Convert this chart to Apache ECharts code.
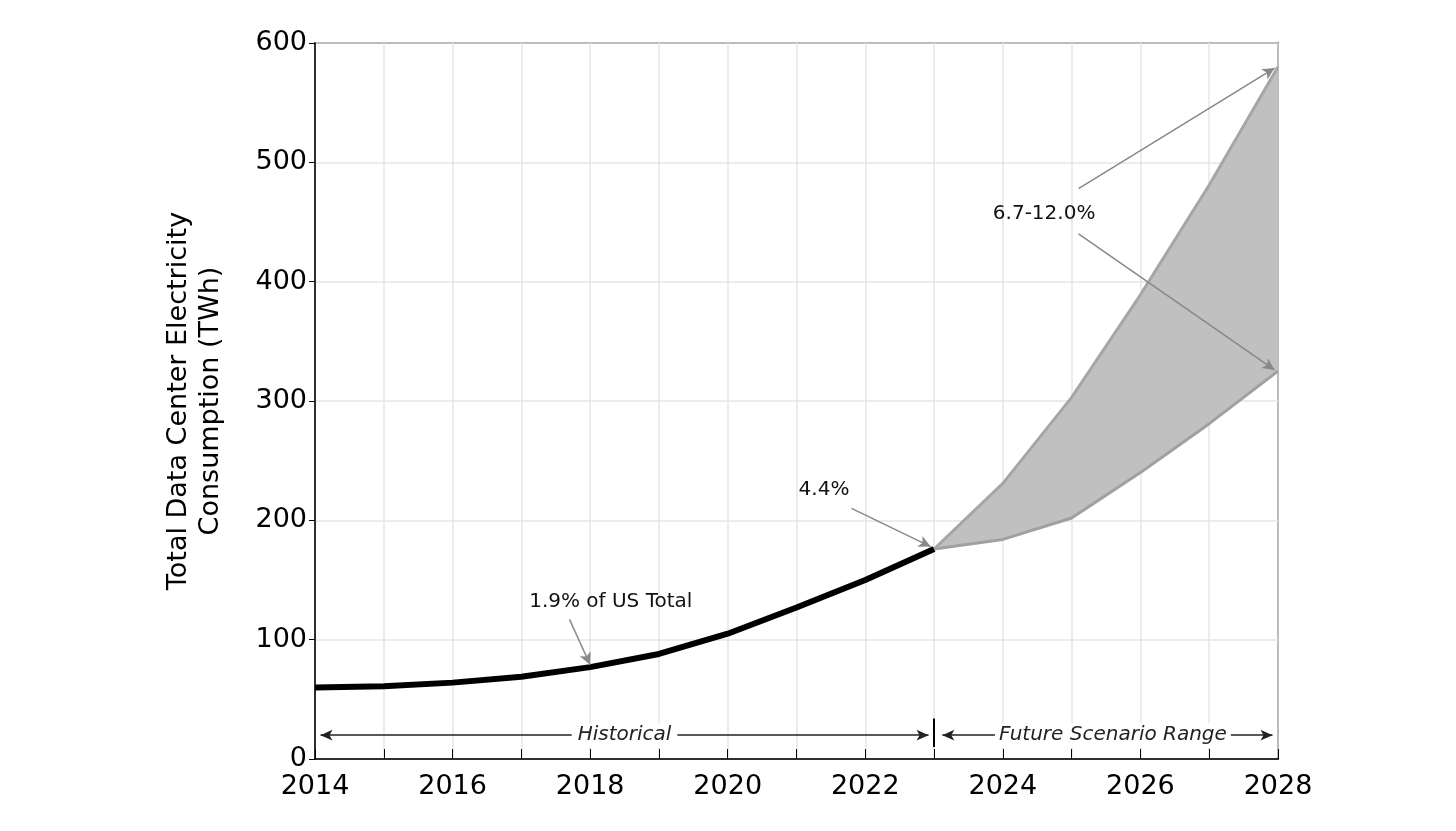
<!DOCTYPE html>
<html>
<head>
<meta charset="utf-8">
<script src="https://cdn.jsdelivr.net/npm/echarts@6/dist/echarts.min.js"></script>
<style>html,body{margin:0;background:#fff}#main{width:1456px;height:831px}</style>
</head>
<body>
<div id="main"></div>
<script>
const histYears = [2014, 2015, 2016, 2017, 2018, 2019, 2020, 2021, 2022, 2023];
const histValues = [60, 61, 64, 69, 77, 88, 105, 127, 150, 176];
const futureYears = [2023, 2024, 2025, 2026, 2027, 2028];
const futureHigh = [176, 231, 303, 389, 481, 580];
const futureLow = [176, 184, 202, 240, 281, 325];

const myChart = echarts.init(document.getElementById('main'));
const font = 'DejaVu Sans';
const zip = (xs, ys) => xs.map((x, i) => [x, ys[i]]);
const arrow = (from, to, color) => [
  { coord: from, symbol: 'none', lineStyle: { color, width: 1.5, type: 'solid' } },
  { coord: to, symbol: 'arrow', symbolSize: [9, 12] }
];
const span = (from, to) => [
  { coord: from, symbol: 'arrow', symbolSize: [8, 12], lineStyle: { color: '#222', width: 1.5, type: 'solid' } },
  { coord: to, symbol: 'arrow', symbolSize: [8, 12] }
];
// band polygon: upper edge forward, lower edge backward
const bandPoints = zip(futureYears, futureHigh).concat(zip(futureYears, futureLow).reverse());

const option = {
  animation: false,
  grid: { left: 315, right: 178, top: 43, bottom: 72, show: true, borderColor: '#000', borderWidth: 1.5 },
  xAxis: {
    type: 'value', min: 2014, max: 2028, interval: 1,
    axisLine: { onZero: false, lineStyle: { color: '#000', width: 1.5 } },
    axisTick: { inside: true, length: 10, lineStyle: { color: '#000' } },
    axisLabel: { fontFamily: font, fontSize: 27, color: '#000', margin: 14,
      formatter: v => (v % 2 === 0 ? String(v) : '') },
    splitLine: { show: true, lineStyle: { color: '#e6e6e6', width: 1.5 } }
  },
  yAxis: {
    type: 'value', min: 0, max: 600, interval: 100,
    name: 'Total Data Center Electricity\nConsumption (TWh)',
    nameLocation: 'middle', nameGap: 88,
    nameTextStyle: { fontFamily: font, fontSize: 27, color: '#000', lineHeight: 32 },
    axisLine: { show: true, lineStyle: { color: '#000', width: 1.5 } },
    axisTick: { show: true, length: 6, lineStyle: { color: '#000' } },
    axisLabel: { fontFamily: font, fontSize: 27, color: '#000', margin: 8 },
    splitLine: { show: true, lineStyle: { color: '#e6e6e6', width: 1.5 } }
  },
  series: [
    {
      type: 'custom', data: [0], z: 2, silent: true,
      renderItem: (params, api) => ({
        type: 'polygon',
        shape: { points: bandPoints.map(p => api.coord(p)) },
        style: { fill: '#bdbdbd', opacity: 0.95 }
      })
    },
    { type: 'line', data: zip(futureYears, futureLow), symbol: 'none',
      lineStyle: { color: '#a0a0a0', width: 3 }, z: 3 },
    { type: 'line', data: zip(futureYears, futureHigh), symbol: 'none',
      lineStyle: { color: '#a6a6a6', width: 3 }, z: 3 },
    { type: 'line', data: zip(histYears, histValues), symbol: 'none',
      lineStyle: { color: '#000', width: 6 }, z: 4 },
    {
      type: 'line', data: [], z: 5,
      markLine: {
        silent: true, animation: false, label: { show: false },
        data: [
          arrow([2017.7, 117], [2018, 79], '#888'),
          arrow([2021.8, 210], [2022.95, 178], '#888'),
          arrow([2025.1, 478], [2027.95, 579], '#888'),
          arrow([2025.1, 440], [2027.95, 326], '#888'),
          span([2014.08, 20], [2022.92, 20]),
          span([2023.12, 20], [2027.92, 20]),
          [{ coord: [2023, 10], symbol: 'none', lineStyle: { color: '#000', width: 2, type: 'solid' } },
           { coord: [2023, 34], symbol: 'none' }]
        ]
      },
      markPoint: {
        silent: true, symbol: 'circle', symbolSize: 0,
        label: { show: true, fontFamily: font, fontSize: 20, color: '#111', position: 'inside' },
        data: [
          { coord: [2018.3, 132], value: '1.9% of US Total' },
          { coord: [2021.4, 226], value: '4.4%' },
          { coord: [2024.6, 457], value: '6.7-12.0%' },
          { coord: [2018.5, 20], value: 'Historical',
            label: { fontStyle: 'italic', color: '#222', backgroundColor: '#fff', padding: [2, 6] } },
          { coord: [2025.6, 20], value: 'Future Scenario Range',
            label: { fontStyle: 'italic', color: '#222', backgroundColor: '#fff', padding: [2, 4] } }
        ]
      }
    }
  ]
};

myChart.setOption(option);
</script>
</body>
</html>
